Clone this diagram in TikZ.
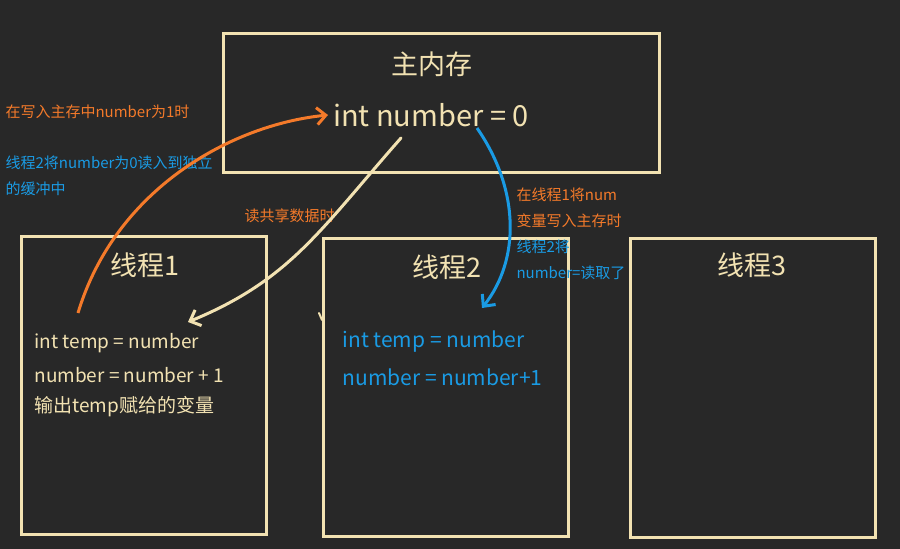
\documentclass[tikz,border=0pt]{standalone}
\usepackage{fontspec}
\setmainfont{Noto Sans CJK SC}
\usetikzlibrary{arrows.meta}
\definecolor{bg}{HTML}{282828}
\definecolor{cream}{HTML}{F2E2B2}
\definecolor{orng}{HTML}{F47A2A}
\definecolor{blu}{HTML}{1A9BE4}
\begin{document}
\begin{tikzpicture}[x=1pt,y=-1pt,
  box/.style={draw=cream,line width=3pt},
  ttl/.style={text=cream,font=\fontsize{27}{31}\selectfont},
  code/.style={text=cream,anchor=west,font=\fontsize{19}{23}\selectfont},
  bcode/.style={text=blu,anchor=west,font=\fontsize{21}{25}\selectfont},
  onote/.style={text=orng,anchor=west,font=\fontsize{15}{18}\selectfont},
  bnote/.style={text=blu,anchor=west,font=\fontsize{15}{18}\selectfont},
  arr/.style={line width=3pt,-{Straight Barb[length=9pt,width=17pt,line width=3pt]}}]
\fill[bg] (0,0) rectangle (900,549);
\useasboundingbox (0,0) rectangle (900,549);
\draw[box] (223,33) rectangle (659,172);
\draw[box] (21,236) rectangle (266,534);
\draw[box] (323,238) rectangle (568,536);
\draw[box] (630,238) rectangle (875,537);
\node[ttl] (mem) at (432,64) {主内存};
\node[text=cream,font=\fontsize{29}{33}\selectfont] (num) at (431,115) {int number = 0};
\node[ttl] (t1) at (145,265) {线程1};
\node[ttl] (t2) at (447,267) {线程2};
\node[ttl] (t3) at (752,265) {线程3};
\node[code] (a1) at (31,343) {int temp = number};
\node[code] (a2) at (31,375) {number = number + 1};
\node[code] (a3) at (31,407) {输出temp赋给的变量};
\node[bcode] (b1) at (339,342) {int temp = number};
\node[bcode] (b2) at (339,377) {number = number+1};
\node[onote] (n1) at (2,112) {在写入主存中number为1时};
\node[bnote] (n2) at (2,163) {线程2将number为0读入到独立};
\node[bnote] (n3) at (2,189) {的缓冲中};
\node[onote] (n4) at (241,216) {读共享数据时};
\node[onote] (n5) at (513,195) {在线程1将num};
\node[onote] (n6) at (513,221) {变量写入主存时};
\node[bnote] (n7) at (513,247) {线程2将};
\node[bnote] (n8) at (513,273) {number=读取了};
\coordinate (o1) at (78,313);
\coordinate (o2) at (328,115);
\draw[arr,orng] (o1) .. controls (115,190) and (230,125) .. (o2);
\coordinate (c1) at (401,138);
\coordinate (c2) at (188,322);
\draw[arr,cream,line cap=round] (c1) .. controls (320,230) and (290,280) .. (c2);
\coordinate (u1) at (477,128);
\coordinate (u2) at (482,308);
\draw[arr,blu] (u1) .. controls (520,190) and (520,260) .. (u2);
\coordinate (k1) at (319,313);
\coordinate (k2) at (322,320);
\draw[cream,line width=2pt,line cap=round] (k1) -- (k2);
\end{tikzpicture}
\end{document}
